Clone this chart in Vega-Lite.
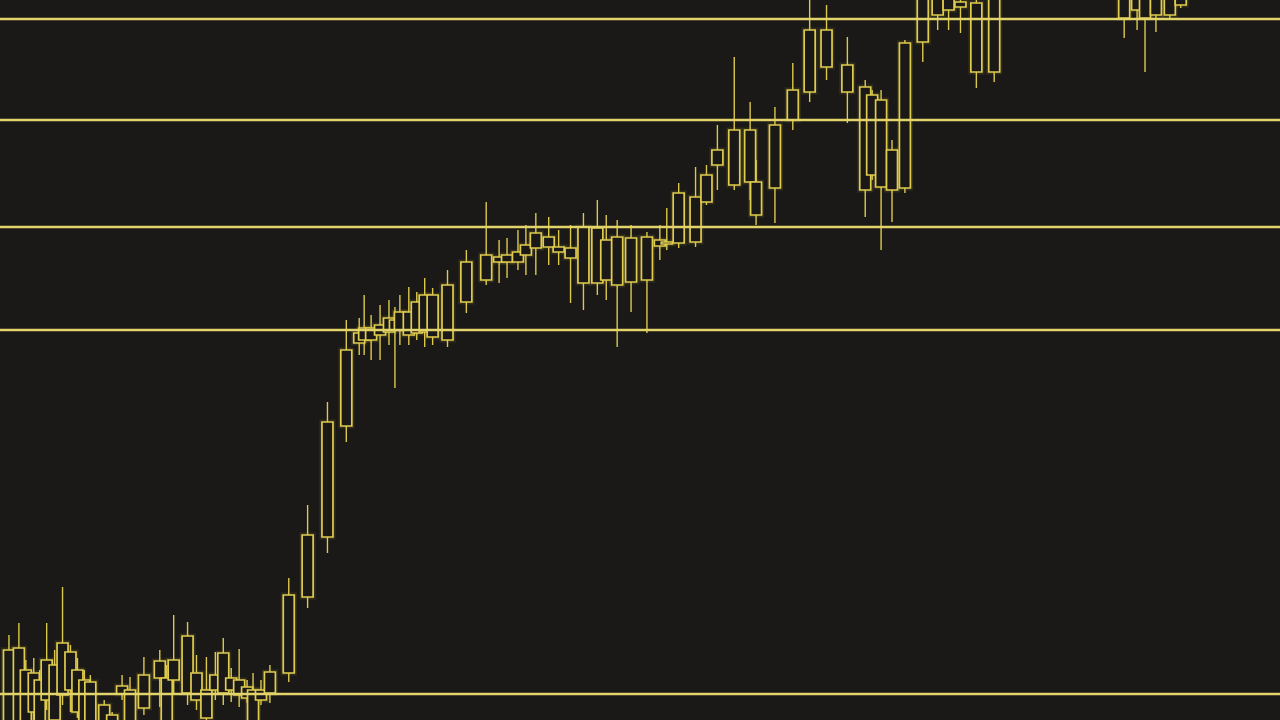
{
  "$schema": "https://vega.github.io/schema/vega-lite/v6.json",
  "width": 1280,
  "height": 720,
  "autosize": {"type": "fit", "contains": "padding"},
  "padding": 0,
  "background": "#1a1917",
  "config": {"view": {"stroke": null}},
  "datasets": {
    "candles": [
      {"t":4,"open":-5,"close":70,"high":85,"low":-10},
      {"t":14,"open":-5,"close":72,"high":97,"low":-10},
      {"t":21,"open":-5,"close":50,"high":60,"low":-10},
      {"t":29,"open":8,"close":47,"high":62,"low":0},
      {"t":35,"open":-5,"close":40,"high":50,"low":-10},
      {"t":42,"open":20,"close":60,"high":97,"low":10},
      {"t":50,"open":0,"close":55,"high":70,"low":-5},
      {"t":58,"open":25,"close":77,"high":133,"low":15},
      {"t":66,"open":30,"close":68,"high":75,"low":8},
      {"t":73,"open":8,"close":50,"high":62,"low":2},
      {"t":80,"open":-5,"close":40,"high":50,"low":-10},
      {"t":86,"open":-5,"close":38,"high":45,"low":-10},
      {"t":100,"open":-5,"close":15,"high":20,"low":-10},
      {"t":108,"open":-5,"close":5,"high":8,"low":-10},
      {"t":118,"open":26,"close":34,"high":45,"low":20},
      {"t":126,"open":-5,"close":30,"high":43,"low":-10},
      {"t":140,"open":12,"close":45,"high":63,"low":5},
      {"t":156,"open":42,"close":59,"high":70,"low":13},
      {"t":163,"open":-5,"close":42,"high":55,"low":-10},
      {"t":170,"open":40,"close":60,"high":105,"low":25},
      {"t":184,"open":27,"close":84,"high":98,"low":15},
      {"t":193,"open":20,"close":47,"high":65,"low":10},
      {"t":203,"open":2,"close":30,"high":63,"low":-2},
      {"t":212,"open":30,"close":45,"high":68,"low":20},
      {"t":220,"open":27,"close":67,"high":82,"low":15},
      {"t":228,"open":30,"close":42,"high":52,"low":18},
      {"t":236,"open":25,"close":40,"high":71,"low":13},
      {"t":244,"open":22,"close":33,"high":40,"low":17},
      {"t":250,"open":-5,"close":30,"high":47,"low":-10},
      {"t":258,"open":20,"close":30,"high":40,"low":15},
      {"t":267,"open":27,"close":48,"high":55,"low":17},
      {"t":286,"open":47,"close":125,"high":142,"low":38},
      {"t":305,"open":123,"close":185,"high":215,"low":112},
      {"t":325,"open":183,"close":298,"high":318,"low":167},
      {"t":344,"open":294,"close":370,"high":400,"low":278},
      {"t":357,"open":377,"close":387,"high":402,"low":365},
      {"t":362,"open":380,"close":392,"high":425,"low":365},
      {"t":369,"open":392,"close":380,"high":405,"low":360},
      {"t":378,"open":385,"close":395,"high":415,"low":360},
      {"t":387,"open":388,"close":402,"high":420,"low":375},
      {"t":393,"open":400,"close":390,"high":413,"low":332},
      {"t":398,"open":390,"close":408,"high":425,"low":375},
      {"t":407,"open":385,"close":408,"high":433,"low":375},
      {"t":415,"open":387,"close":418,"high":428,"low":380},
      {"t":423,"open":388,"close":425,"high":442,"low":373},
      {"t":431,"open":383,"close":425,"high":432,"low":375},
      {"t":446,"open":380,"close":435,"high":450,"low":373},
      {"t":465,"open":418,"close":458,"high":470,"low":407},
      {"t":485,"open":440,"close":465,"high":518,"low":435},
      {"t":498,"open":458,"close":463,"high":480,"low":437},
      {"t":506,"open":465,"close":458,"high":482,"low":442},
      {"t":517,"open":458,"close":468,"high":490,"low":450},
      {"t":525,"open":465,"close":475,"high":495,"low":445},
      {"t":535,"open":472,"close":487,"high":507,"low":445},
      {"t":548,"open":483,"close":473,"high":503,"low":455},
      {"t":558,"open":473,"close":468,"high":490,"low":455},
      {"t":570,"open":472,"close":462,"high":495,"low":417},
      {"t":583,"open":493,"close":437,"high":507,"low":410},
      {"t":597,"open":437,"close":492,"high":520,"low":425},
      {"t":606,"open":480,"close":440,"high":505,"low":420},
      {"t":617,"open":435,"close":483,"high":500,"low":373},
      {"t":631,"open":482,"close":438,"high":495,"low":408},
      {"t":647,"open":440,"close":483,"high":488,"low":387},
      {"t":660,"open":474,"close":480,"high":495,"low":460},
      {"t":667,"open":476,"close":478,"high":512,"low":470},
      {"t":679,"open":477,"close":527,"high":537,"low":472},
      {"t":696,"open":478,"close":523,"high":553,"low":473},
      {"t":707,"open":518,"close":545,"high":555,"low":515},
      {"t":718,"open":555,"close":570,"high":595,"low":530},
      {"t":735,"open":535,"close":590,"high":663,"low":530},
      {"t":751,"open":590,"close":538,"high":618,"low":520},
      {"t":757,"open":538,"close":505,"high":560,"low":495},
      {"t":776,"open":532,"close":595,"high":613,"low":497},
      {"t":794,"open":600,"close":630,"high":657,"low":590},
      {"t":811,"open":628,"close":690,"high":720,"low":618},
      {"t":828,"open":690,"close":653,"high":715,"low":640},
      {"t":849,"open":655,"close":628,"high":683,"low":597},
      {"t":867,"open":633,"close":530,"high":640,"low":503},
      {"t":874,"open":625,"close":545,"high":630,"low":540},
      {"t":883,"open":620,"close":533,"high":630,"low":470},
      {"t":894,"open":570,"close":530,"high":580,"low":498},
      {"t":907,"open":532,"close":677,"high":680,"low":527},
      {"t":925,"open":678,"close":725,"high":730,"low":658},
      {"t":940,"open":705,"close":725,"high":730,"low":690},
      {"t":951,"open":710,"close":725,"high":730,"low":690},
      {"t":963,"open":713,"close":718,"high":730,"low":687},
      {"t":979,"open":717,"close":648,"high":730,"low":632},
      {"t":997,"open":648,"close":725,"high":730,"low":638},
      {"t":1128,"open":702,"close":725,"high":730,"low":682},
      {"t":1141,"open":710,"close":725,"high":730,"low":690},
      {"t":1149,"open":725,"close":702,"high":730,"low":648},
      {"t":1160,"open":705,"close":725,"high":730,"low":688},
      {"t":1174,"open":705,"close":725,"high":730,"low":700},
      {"t":1185,"open":715,"close":725,"high":730,"low":712}
    ],
    "levels": [
      {"price": 701},
      {"price": 600},
      {"price": 493},
      {"price": 390},
      {"price": 26}
    ]
  },
  "layer": [
    {
      "data": {"name": "candles"},
      "mark": {"type": "bar", "clip": true, "size": 11, "fill": "#1a1917", "stroke": "#d8c54a", "strokeWidth": 5, "strokeOpacity": 0.12},
      "encoding": {
        "x": {"field": "t", "type": "quantitative", "scale": {"domain": [0, 1280], "nice": false, "zero": false}, "axis": null},
        "y": {"field": "open", "type": "quantitative", "scale": {"domain": [0, 720], "nice": false, "zero": false}, "axis": null},
        "y2": {"field": "close"}
      }
    },
    {
      "data": {"name": "candles"},
      "mark": {"type": "rule", "clip": true, "stroke": "#dcc94c", "strokeWidth": 1.4},
      "encoding": {
        "x": {"field": "t", "type": "quantitative", "scale": {"domain": [0, 1280], "nice": false, "zero": false}, "axis": null},
        "y": {"field": "low", "type": "quantitative", "scale": {"domain": [0, 720], "nice": false, "zero": false}, "axis": null},
        "y2": {"field": "high"}
      }
    },
    {
      "data": {"name": "candles"},
      "mark": {"type": "bar", "clip": true, "size": 11, "fill": "#1a1917", "stroke": "#e0cc4e", "strokeWidth": 1.7},
      "encoding": {
        "x": {"field": "t", "type": "quantitative", "scale": {"domain": [0, 1280], "nice": false, "zero": false}, "axis": null},
        "y": {"field": "open", "type": "quantitative", "scale": {"domain": [0, 720], "nice": false, "zero": false}, "axis": null},
        "y2": {"field": "close"}
      }
    },
    {
      "data": {"name": "levels"},
      "mark": {"type": "rule", "clip": true, "stroke": "#e2d46a", "strokeWidth": 2.4},
      "encoding": {
        "y": {"field": "price", "type": "quantitative", "scale": {"domain": [0, 720], "nice": false, "zero": false}, "axis": null}
      }
    }
  ]
}
